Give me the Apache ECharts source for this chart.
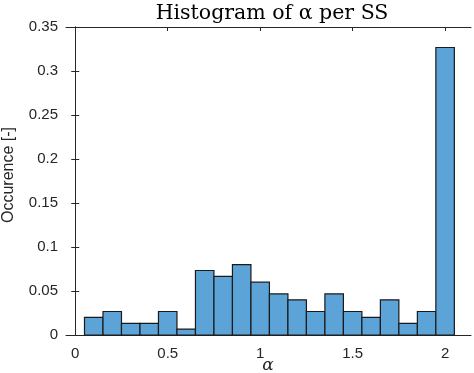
<!DOCTYPE html>
<html><head><meta charset="utf-8">
<script src="https://cdn.jsdelivr.net/npm/echarts@6/dist/echarts.min.js"></script>
<style>html,body{margin:0;padding:0;background:#fff}#c{width:474px;height:373px}</style>
</head><body><div id="c"></div>
<script>
const binEdges = [0.05,0.15,0.25,0.35,0.45,0.55,0.65,0.75,0.85,0.95,1.05,1.15,1.25,1.35,1.45,1.55,1.65,1.75,1.85,1.95,2.05];
const occurrence = [0.02,0.0267,0.0133,0.0133,0.0267,0.0067,0.0733,0.0667,0.08,0.06,0.0467,0.04,0.0267,0.0467,0.0267,0.02,0.04,0.0133,0.0267,0.3267];
const xTicks = [0,0.5,1,1.5,2];
const yTicks = [0,0.05,0.1,0.15,0.2,0.25,0.3,0.35];

const data = occurrence.map((v,i)=>[binEdges[i],binEdges[i+1],v]);
const axisCol = '#262626';
const font = '"Liberation Sans", Arial, sans-serif';
const serif = '"DejaVu Serif", "Liberation Serif", serif';
const chart = echarts.init(document.getElementById('c'));
const xCommon = {type:'value',min:-0.05,max:2.14,
  axisLine:{show:true,onZero:false,lineStyle:{color:axisCol,width:1}},
  axisTick:{show:true,inside:true,length:4,customValues:xTicks,lineStyle:{color:axisCol}},
  splitLine:{show:false}};
const yCommon = {type:'value',min:0,max:0.35,interval:0.05,
  axisLine:{show:true,lineStyle:{color:axisCol,width:1}},
  axisTick:{show:true,inside:true,length:4,lineStyle:{color:axisCol}},
  splitLine:{show:false}};
chart.setOption({
  animation:false,
  title:{text:'Histogram of α per SS',left:267,top:-2,textAlign:'center',
    textStyle:{fontFamily:serif,fontSize:20.5,fontWeight:'normal',color:'#000'}},
  grid:{left:66,right:3,top:27,bottom:38,containLabel:false,outerBoundsMode:'none'},
  xAxis:[
    Object.assign({},xCommon,{position:'bottom',
      axisLabel:{show:true,customValues:xTicks,margin:11,fontSize:15,color:axisCol,fontFamily:font,
        formatter:v=>String(v)}}),
    Object.assign({},xCommon,{position:'top',axisLabel:{show:false}})
  ],
  yAxis:[
    Object.assign({},yCommon,{position:'left',
      axisLabel:{show:true,margin:8,fontSize:15,color:axisCol,fontFamily:font,
        formatter:v=>String(Math.round(v*100)/100)}}),
    Object.assign({},yCommon,{position:'right',axisLabel:{show:false}})
  ],
  graphic:[
    {type:'text',x:9,y:175,rotation:Math.PI/2,
      style:{text:'Occurence [-]',font:'16px '+font,fill:axisCol,align:'center',verticalAlign:'middle'}},
    {type:'text',x:268,y:366,
      style:{text:'α',font:'italic 17px '+serif,fill:axisCol,align:'center',verticalAlign:'middle'}}
  ],
  series:[{
    type:'custom',xAxisIndex:0,yAxisIndex:0,data:data,
    encode:{x:[0,1],y:2},
    renderItem:function(params,api){
      const p0 = api.coord([api.value(0),0]);
      const p1 = api.coord([api.value(1),api.value(2)]);
      return {type:'rect',
        shape:{x:p0[0],y:p1[1],width:p1[0]-p0[0],height:p0[1]-p1[1]},
        style:{fill:'rgb(92,164,216)',stroke:'#1a1a1a',lineWidth:1.2}};
    }
  }]
});
</script></body></html>
